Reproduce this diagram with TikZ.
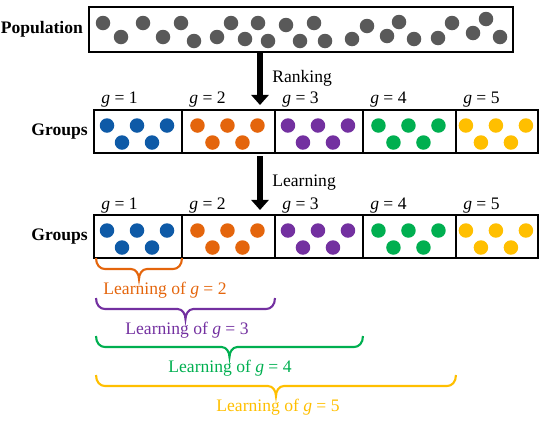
\documentclass[tikz,border=0pt]{standalone}
\usepackage{fontspec}
\setmainfont{Liberation Serif}
\usetikzlibrary{arrows.meta,positioning,calc}

\definecolor{dotgray}{HTML}{595959}
\definecolor{bluc}{HTML}{0E5AA7}
\definecolor{orgc}{HTML}{E4650C}
\definecolor{purc}{HTML}{7330A0}
\definecolor{grnc}{HTML}{00AF50}
\definecolor{ylwc}{HTML}{FFBF00}

\begin{document}
\begin{tikzpicture}[x=0.02cm, y=-0.02cm,
    box/.style={draw, line width=1.2pt, outer sep=0pt, inner sep=0pt, minimum height=0.86cm},
    lab/.style={font=\bfseries},
    bigarrow/.style={-{Triangle[width=9.7pt,length=5.7pt]}, line width=3.4pt},
    brc/.style={line width=1.2pt}]
    \useasboundingbox (0,0) rectangle (550,420);

    % population
    \node[box, minimum width=8.48cm, minimum height=0.9cm] (pop) at (301,29.5) {};
    \node[lab, left=0pt of pop] (poplab) {Population};
    \foreach \px/\py in {103/23, 121/37, 143/23, 163/37, 181/23, 194/41, 217/37, 231/23,
        245/39, 258/23, 268/41, 286/25, 300/41, 314/23, 325/41, 352/39, 367/26, 387/36,
        399/22, 414/39, 438/38, 452/23, 473/33, 486/19, 500/37}
        \fill[dotgray] (\px,\py) circle[radius=0.145cm];

    % groups after ranking
    \node[box, minimum width=1.76cm] (a1) at (138,131.5) {};
    \node[box, minimum width=1.86cm, right=0pt of a1] (a2) {};
    \node[box, minimum width=1.76cm, right=0pt of a2] (a3) {};
    \node[box, minimum width=1.86cm, right=0pt of a3] (a4) {};
    \node[box, minimum width=1.64cm, right=0pt of a4] (a5) {};
    \node[lab, left=0pt of a1] (grplab1) {Groups};

    % groups after learning
    \node[box, minimum width=1.76cm] (b1) at (138,236.5) {};
    \node[box, minimum width=1.86cm, right=0pt of b1] (b2) {};
    \node[box, minimum width=1.76cm, right=0pt of b2] (b3) {};
    \node[box, minimum width=1.86cm, right=0pt of b3] (b4) {};
    \node[box, minimum width=1.64cm, right=0pt of b4] (b5) {};
    \node[lab, left=0pt of b1] (grplab2) {Groups};

    \foreach \i/\c in {1/bluc, 2/orgc, 3/purc, 4/grnc, 5/ylwc} {
        \node[anchor=base west, inner sep=0pt] (ga\i) at ([shift={(7,-7)}]a\i.north west) {\textit{g} = \i};
        \node[anchor=base west, inner sep=0pt] (gb\i) at ([shift={(7,-6)}]b\i.north west) {\textit{g} = \i};
        \foreach \dx/\dy in {-31/-6, -1/-6, 29/-6, -16/11, 14/11} {
            \fill[\c] ([shift={(\dx,\dy)}]a\i.center) circle[radius=0.145cm];
            \fill[\c] ([shift={(\dx,\dy)}]b\i.center) circle[radius=0.145cm];
        }
    }

    % arrows
    \coordinate (r1) at (260,105);
    \coordinate (r2) at (260,210);
    \draw[bigarrow] (pop.south -| r1) -- node[right=2pt] {Ranking} (r1);
    \draw[bigarrow] ([yshift=-0.06cm]a2.south -| r2) -- node[right=2pt] {Learning} (r2);

    % braces
    \foreach \g/\c/\y/\r/\tx in {2/orgc/258/b1/165, 3/purc/298/b2/187, 4/grnc/336/b3/230, 5/ylwc/375/b4/278} {
        \coordinate (s) at (96,\y);
        \coordinate (e) at (s -| \r.east);
        \coordinate (m) at ($(s)!.5!(e)$);
        \draw[brc, \c] (s) .. controls +(0,7) and +(-5,0) .. ++(9,11)
            -- ($(m)+(-8,11)$) .. controls +(5,0) and +(0,-5) .. ++(8,10)
            .. controls +(0,-5) and +(-5,0) .. ++(8,-10)
            -- ($(e)+(-9,11)$) .. controls +(5,0) and +(0,7) .. (e);
        \node[\c] (lg\g) at (\tx,\y+32) {Learning of \textit{g} = \g};
    }
\end{tikzpicture}
\end{document}
